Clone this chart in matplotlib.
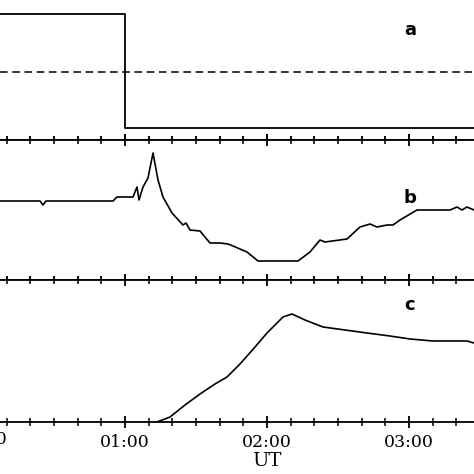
import matplotlib
matplotlib.use("Agg")
import matplotlib.pyplot as plt
from matplotlib.ticker import MultipleLocator, FuncFormatter
import numpy as np

def h(px):
    return 1 + (np.asarray(px, float) - 125) / 142

# panel a: step
a_x = [0, 125, 125, 474]
a_y = [126, 126, 12, 12]
a_dash = 68

# panel b
b_px = [0, 40, 43, 46, 113, 117, 133, 137, 139, 143, 148, 153, 158, 163, 172, 183, 186, 190,
        200, 210, 220, 228, 233, 247, 258, 298, 310, 320, 325, 347, 360, 370, 377, 387, 393,
        400, 417, 450, 457, 462, 467, 474]
b_val = [79, 79, 75, 79, 79, 83, 83, 93, 80, 93, 102, 127, 100, 83, 67, 55, 57, 50,
         49, 37, 37, 36, 34, 28, 19, 19, 28, 40, 38, 41, 53, 56, 53, 55, 55,
         60, 70, 70, 73, 70, 73, 70]

# panel c
c_px = [157, 170, 185, 200, 215, 227, 240, 255, 267, 278, 283, 292, 305, 323, 345, 367, 390, 410, 433, 467, 474]
c_val = [0, 5, 17, 28, 38, 45, 58, 75, 89, 100, 105, 108, 102, 95, 92, 89, 86, 83, 81, 81, 79]

fig = plt.figure(figsize=(4.74, 4.74), dpi=100)
W, H = 474, 474
xl = (h(0), h(474))
panels = [(0, 140), (140, 280), (280, 422)]
axes = []
for top, bot in panels:
    ax = fig.add_axes([0, 1 - bot / H, 1, (bot - top) / H])
    ax.set_xlim(*xl)
    ax.set_ylim(0, bot - top)
    ax.spines['left'].set_visible(False)
    ax.spines['right'].set_visible(False)
    for s in ax.spines.values():
        s.set_linewidth(1.3)
    ax.set_yticks([])
    ax.xaxis.set_major_locator(MultipleLocator(1))
    ax.xaxis.set_minor_locator(MultipleLocator(1 / 6))
    ax.tick_params(axis='x', which='major', direction='inout', length=9, width=1.3, top=True, bottom=True)
    ax.tick_params(axis='x', which='minor', direction='inout', length=6, width=1.1, top=True, bottom=True)
    ax.set_xticklabels([])
    axes.append(ax)

axa, axb, axc = axes
axa.spines['top'].set_visible(False)
axa.tick_params(axis='x', which='both', top=False)
axa.plot(h(a_x), a_y, color='black', lw=1.3)
axa.axhline(a_dash, color='black', lw=1.1, ls=(0, (5, 3)))
axb.plot(h(b_px), b_val, color='black', lw=1.2)
axc.plot(h(c_px), c_val, color='black', lw=1.2)

for ax, lab, yy in [(axa, 'a', 110), (axb, 'b', 82), (axc, 'c', 117)]:
    ax.text(h(410), yy, lab, fontsize=13, fontweight='bold', ha='center', va='center', family='DejaVu Sans')

axc.xaxis.set_major_formatter(FuncFormatter(lambda v, p: f"{int(round(v)):02d}:00"))
axc.tick_params(axis='x', labelsize=14, pad=4)
for t in axc.get_xticklabels():
    t.set_family('DejaVu Serif')
    t.set_fontsize(12.5)
fig.text(-17 / W, 1 - 440 / H, "00:00", ha='center', va='center', fontsize=12.5, family='DejaVu Serif')
fig.text(267 / W, 1 - 461 / H, "UT", ha='center', va='center', fontsize=14, family='DejaVu Serif')
fig.savefig("out.png", dpi=100)
